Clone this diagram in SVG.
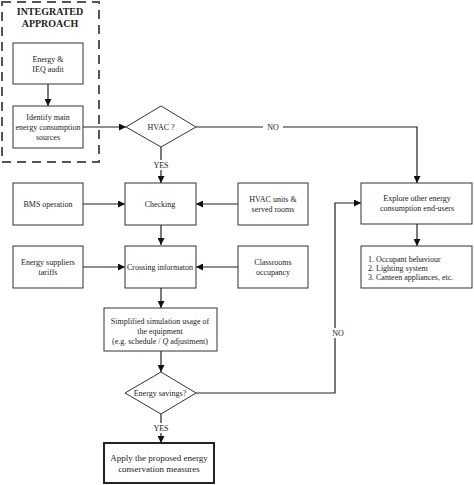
<svg xmlns="http://www.w3.org/2000/svg" width="474" height="485" viewBox="0 0 474 485">
<style>
text{font-family:"Liberation Serif","Times New Roman",serif;font-size:8px;fill:#222;text-anchor:middle}
.b{fill:#fff;stroke:#333;stroke-width:1}
.c{fill:none;stroke:#222;stroke-width:1.2}
.t{font-weight:bold;font-size:10px}
.lbl{fill:#fff;stroke:none}
</style>
<defs>
<marker id="ar" viewBox="0 0 10 10" refX="10" refY="5" markerWidth="7" markerHeight="7" markerUnits="userSpaceOnUse" orient="auto">
<path d="M0,0 L10,5 L0,10 z" fill="#111"/>
</marker>
</defs>
<rect width="474" height="485" fill="#fff"/>
<g id="integrated">
<rect x="2" y="2" width="97" height="160" fill="none" stroke="#555" stroke-width="2" stroke-dasharray="9,6"/>
<text class="t" x="50" y="15">INTEGRATED</text>
<text class="t" x="50" y="27">APPROACH</text>
</g>
<g id="connectors">
<line class="c" x1="48" y1="84" x2="48" y2="106" marker-end="url(#ar)"/>
<line class="c" x1="83" y1="127" x2="126" y2="127" marker-end="url(#ar)"/>
<polyline class="c" points="196,127 417,127 417,183" marker-end="url(#ar)"/>
<line class="c" x1="161" y1="147" x2="161" y2="183" marker-end="url(#ar)"/>
<line class="c" x1="83" y1="204" x2="125" y2="204" marker-end="url(#ar)"/>
<line class="c" x1="238" y1="204" x2="196" y2="204" marker-end="url(#ar)"/>
<line class="c" x1="161" y1="225" x2="161" y2="245" marker-end="url(#ar)"/>
<line class="c" x1="83" y1="267" x2="125" y2="267" marker-end="url(#ar)"/>
<line class="c" x1="238" y1="267" x2="196" y2="267" marker-end="url(#ar)"/>
<line class="c" x1="161" y1="288" x2="161" y2="308" marker-end="url(#ar)"/>
<line class="c" x1="161" y1="351" x2="161" y2="372" marker-end="url(#ar)"/>
<line class="c" x1="161" y1="414" x2="161" y2="443" marker-end="url(#ar)"/>
<polyline class="c" points="196,393 335,393 335,203 361,203" marker-end="url(#ar)"/>
<line class="c" x1="417" y1="224" x2="417" y2="246" marker-end="url(#ar)"/>
<rect class="lbl" x="263" y="122" width="20" height="10"/>
<text x="273" y="130">NO</text>
<rect class="lbl" x="151" y="160" width="20" height="10"/>
<text x="161" y="168">YES</text>
<rect class="lbl" x="328" y="328" width="20" height="10"/>
<text x="338" y="336">NO</text>
<rect class="lbl" x="151" y="423" width="20" height="10"/>
<text x="161" y="431">YES</text>
</g>
<g id="audit">
<rect class="b" x="13" y="43" width="70" height="41"/>
<text x="48" y="62">Energy &amp;</text>
<text x="48" y="72">IEQ audit</text>
</g>
<g id="identify">
<rect class="b" x="13" y="106" width="70" height="42"/>
<text x="48" y="120">Identify main</text>
<text x="48" y="130">energy consumption</text>
<text x="48" y="140">sources</text>
</g>
<g id="hvac-q">
<polygon class="b" points="126,127 161,106 196,127 161,147"/>
<text x="161" y="130">HVAC ?</text>
</g>
<g id="bms">
<rect class="b" x="13" y="183" width="70" height="42"/>
<text x="48" y="207">BMS operation</text>
</g>
<g id="checking">
<rect class="b" x="125" y="183" width="71" height="42"/>
<text x="160" y="207">Checking</text>
</g>
<g id="hvac-units">
<rect class="b" x="238" y="183" width="70" height="42"/>
<text x="273" y="202">HVAC units &amp;</text>
<text x="273" y="212">served rooms</text>
</g>
<g id="suppliers">
<rect class="b" x="13" y="246" width="70" height="42"/>
<text x="48" y="265">Energy suppliers</text>
<text x="48" y="275">tariffs</text>
</g>
<g id="crossing">
<rect class="b" x="125" y="246" width="71" height="42"/>
<text x="160" y="270">Crossing informaton</text>
</g>
<g id="classrooms">
<rect class="b" x="238" y="246" width="70" height="42"/>
<text x="273" y="265">Classrooms</text>
<text x="273" y="275">occupancy</text>
</g>
<g id="explore">
<rect class="b" x="361" y="183" width="111" height="41"/>
<text x="417" y="201">Explore other energy</text>
<text x="417" y="211">consumption end-users</text>
</g>
<g id="list">
<rect class="b" x="361" y="246" width="111" height="42"/>
<text x="368" y="262" style="text-anchor:start">1. Occupant behaviour</text>
<text x="368" y="271" style="text-anchor:start">2. Lighting system</text>
<text x="368" y="280" style="text-anchor:start">3. Canteen appliances, etc.</text>
</g>
<g id="simulation">
<rect class="b" x="104" y="308" width="113" height="43"/>
<text x="160" y="324">Simplified simulation usage of</text>
<text x="160" y="334">the equipment</text>
<text x="160" y="344">(e.g. schedule / <tspan font-style="italic">Q</tspan> adjustment)</text>
</g>
<g id="savings">
<polygon class="b" points="125,393 161,372 196,393 161,414"/>
<text x="160" y="396">Energy savings?</text>
</g>
<g id="apply">
<rect x="104" y="443" width="110" height="40" fill="#fff" stroke="#222" stroke-width="2"/>
<text x="159" y="461" style="font-size:9px">Apply the proposed energy</text>
<text x="159" y="472" style="font-size:9px">conservation measures</text>
</g>
</svg>
